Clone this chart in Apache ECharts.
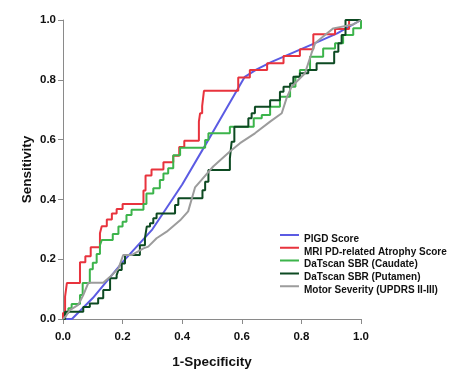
<!DOCTYPE html>
<html>
<head>
<meta charset="utf-8">
<script src="https://cdn.jsdelivr.net/npm/echarts@6/dist/echarts.min.js"></script>
<style>
html,body{margin:0;padding:0;background:#fff;}
#c{width:474px;height:380px;}
</style>
</head>
<body>
<div id="c"></div>
<script>
// Series names (legend order)
const seriesNames = ['PIGD Score','MRI PD-related Atrophy Score','DaTscan SBR (Caudate)','DaTscan SBR (Putamen)','Motor Severity (UPDRS II-III)'];
const xAxisName = '1-Specificity';
const yAxisName = 'Sensitivity';

// ROC points [1-specificity, sensitivity]
const pigd = [[0,0],[0.03,0],[0.1,0.07],[0.2,0.19],[0.3,0.3],[0.4,0.45],[0.5,0.62],[0.61,0.81],[0.65,0.835],[0.7,0.86],[0.84,0.92],[0.92,0.955],[1,1]];

const mri = [[0,0],[0,0.02],[0.007,0.02],[0.007,0.075],[0.013,0.075],[0.013,0.12],[0.057,0.12],[0.057,0.19],[0.075,0.19],[0.075,0.21],[0.093,0.21],[0.093,0.24],[0.124,0.24],[0.124,0.287],[0.13,0.287],[0.13,0.31],[0.147,0.31],[0.147,0.333],[0.164,0.333],[0.164,0.353],[0.18,0.353],[0.18,0.368],[0.2,0.368],[0.2,0.385],[0.27,0.385],[0.27,0.43],[0.277,0.43],[0.277,0.48],[0.297,0.48],[0.297,0.5],[0.337,0.5],[0.337,0.524],[0.37,0.524],[0.37,0.546],[0.39,0.546],[0.39,0.575],[0.407,0.575],[0.407,0.596],[0.456,0.596],[0.456,0.66],[0.46,0.66],[0.46,0.688],[0.467,0.688],[0.467,0.712],[0.473,0.712],[0.473,0.763],[0.588,0.763],[0.588,0.808],[0.627,0.808],[0.627,0.833],[0.685,0.833],[0.685,0.855],[0.74,0.855],[0.74,0.88],[0.795,0.88],[0.795,0.902],[0.84,0.902],[0.84,0.952],[0.913,0.952],[0.913,0.97],[0.96,0.97],[0.96,1],[1,1]];

const caudate = [[0,0],[0.007,0],[0.007,0.02],[0.018,0.02],[0.018,0.036],[0.029,0.036],[0.029,0.05],[0.057,0.05],[0.057,0.08],[0.066,0.08],[0.066,0.12],[0.09,0.12],[0.09,0.166],[0.1,0.166],[0.1,0.188],[0.113,0.188],[0.113,0.217],[0.124,0.217],[0.124,0.247],[0.13,0.247],[0.13,0.264],[0.167,0.264],[0.167,0.284],[0.186,0.284],[0.186,0.309],[0.2,0.309],[0.2,0.325],[0.213,0.325],[0.213,0.348],[0.23,0.348],[0.23,0.365],[0.27,0.365],[0.27,0.385],[0.28,0.385],[0.28,0.42],[0.303,0.42],[0.303,0.437],[0.325,0.437],[0.325,0.465],[0.337,0.465],[0.337,0.487],[0.353,0.487],[0.353,0.504],[0.37,0.504],[0.37,0.548],[0.393,0.548],[0.393,0.573],[0.477,0.573],[0.477,0.599],[0.488,0.599],[0.488,0.621],[0.56,0.621],[0.56,0.643],[0.64,0.643],[0.64,0.671],[0.667,0.671],[0.667,0.682],[0.695,0.682],[0.695,0.71],[0.728,0.71],[0.728,0.743],[0.762,0.743],[0.762,0.777],[0.78,0.777],[0.78,0.81],[0.795,0.81],[0.795,0.833],[0.829,0.833],[0.829,0.877],[0.873,0.877],[0.873,0.905],[0.913,0.905],[0.913,0.922],[0.94,0.922],[0.94,0.95],[0.974,0.95],[0.974,0.972],[1,0.972],[1,1]];

const putamen = [[0,0],[0.007,0],[0.007,0.024],[0.068,0.024],[0.068,0.04],[0.09,0.04],[0.09,0.052],[0.118,0.052],[0.118,0.069],[0.135,0.069],[0.135,0.097],[0.158,0.097],[0.158,0.136],[0.18,0.136],[0.18,0.147],[0.186,0.147],[0.186,0.164],[0.197,0.164],[0.197,0.186],[0.208,0.186],[0.208,0.214],[0.258,0.214],[0.258,0.247],[0.275,0.247],[0.275,0.27],[0.281,0.27],[0.281,0.309],[0.292,0.309],[0.292,0.32],[0.303,0.32],[0.303,0.337],[0.314,0.337],[0.314,0.353],[0.376,0.353],[0.376,0.381],[0.387,0.381],[0.387,0.404],[0.468,0.404],[0.468,0.431],[0.477,0.431],[0.477,0.459],[0.488,0.459],[0.488,0.498],[0.56,0.498],[0.56,0.537],[0.566,0.537],[0.566,0.593],[0.575,0.593],[0.575,0.643],[0.622,0.643],[0.622,0.671],[0.633,0.671],[0.633,0.688],[0.644,0.688],[0.644,0.71],[0.695,0.71],[0.695,0.732],[0.728,0.732],[0.728,0.76],[0.74,0.76],[0.74,0.777],[0.762,0.777],[0.762,0.788],[0.773,0.788],[0.773,0.81],[0.795,0.81],[0.795,0.822],[0.823,0.822],[0.823,0.833],[0.851,0.833],[0.851,0.855],[0.91,0.855],[0.91,0.894],[0.924,0.894],[0.924,0.922],[0.935,0.922],[0.935,0.95],[0.948,0.95],[0.948,1],[1,1]];

const motor = [[0,0],[0.01,0.01],[0.023,0.03],[0.051,0.047],[0.068,0.08],[0.085,0.121],[0.135,0.121],[0.158,0.141],[0.186,0.169],[0.202,0.214],[0.23,0.214],[0.27,0.236],[0.286,0.242],[0.314,0.27],[0.348,0.292],[0.393,0.33],[0.42,0.36],[0.443,0.44],[0.465,0.465],[0.504,0.51],[0.56,0.56],[0.594,0.588],[0.644,0.621],[0.695,0.66],[0.734,0.688],[0.75,0.738],[0.767,0.777],[0.812,0.822],[0.834,0.889],[0.846,0.922],[0.879,0.95],[0.907,0.972],[0.974,0.985],[1,1]];

const seriesData = [pigd, mri, caudate, putamen, motor];
const colors = ['#5b5be3','#e8333d','#3cb44b','#0d4a22','#9c9c9c'];

const chart = echarts.init(document.getElementById('c'), null, {renderer:'canvas'});
const font = 'Liberation Sans, Arial, sans-serif';
const axisCommon = {
  type:'value', min:0, max:1, interval:0.2,
  splitLine:{show:false},
  nameMoveOverlap:false,
  axisLine:{show:true, lineStyle:{color:'#8a8a8a', width:1}},
  axisTick:{show:true, length:5, inside:false, lineStyle:{color:'#8a8a8a', width:1}},
  axisLabel:{color:'#111', fontWeight:'bold', fontSize:11.5, fontFamily:font, formatter:v=>v.toFixed(1)},
  nameTextStyle:{color:'#111', fontWeight:'bold', fontSize:13.5, fontFamily:font}
};
chart.setOption({
  animation:false,
  backgroundColor:'#fff',
  grid:{left:63, right:113, top:20, bottom:61, containLabel:false},
  xAxis:Object.assign({}, axisCommon, {name:xAxisName, nameLocation:'middle', nameGap:36,
    axisLabel:Object.assign({}, axisCommon.axisLabel, {margin:12})}),
  yAxis:Object.assign({}, axisCommon, {name:yAxisName, nameLocation:'middle', nameGap:29,
    axisLabel:Object.assign({}, axisCommon.axisLabel, {margin:7})}),
  legend:{
    orient:'vertical', left:280, top:234, padding:0,
    itemWidth:19, itemHeight:10, itemGap:2.8,
    icon:'path://M0,0H19V2H0Z M0,10H0.01V10.01H0Z',
    textStyle:{color:'#111', fontWeight:'bold', fontSize:10, fontFamily:font},
    data:seriesNames
  },
  series:seriesNames.map((n,i)=>({
    name:n, type:'line', data:seriesData[i], showSymbol:false, symbol:'none',
    color:colors[i], lineStyle:{color:colors[i], width:2}, z:2+i
  }))
});
</script>
</body>
</html>
